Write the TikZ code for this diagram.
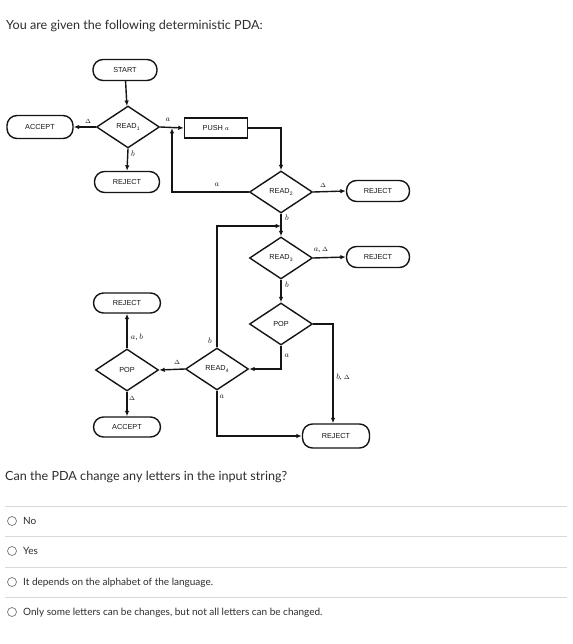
\documentclass[tikz,border=0pt]{standalone}
\usepackage{fontspec}
\setmainfont{Lato}
\newfontfamily\dg{Liberation Sans}
\usetikzlibrary{shapes.geometric,arrows.meta}
\definecolor{txt}{HTML}{2D2D2D}
\definecolor{sep}{HTML}{D9D9D9}
\definecolor{rad}{HTML}{777777}
\definecolor{ink}{HTML}{151515}
\newcommand{\sub}[1]{\raisebox{-1.8pt}{\fontsize{5}{5}\selectfont #1}}
\newcommand{\blank}{$\scriptstyle\Delta$}
\begin{document}
\begin{tikzpicture}[x=1pt,y=-1pt,
  term/.style={draw=ink, line width=1.4pt, rounded corners=10pt, minimum width=65pt, minimum height=21pt, inner sep=0pt, font=\dg\fontsize{7.3}{8}\selectfont, text=ink},
  dec/.style={draw=ink, diamond, line width=1.4pt, minimum width=63pt, minimum height=42pt, inner sep=0pt, font=\dg\fontsize{7.3}{8}\selectfont, text=ink},
  proc/.style={draw=ink, rectangle, line width=1.4pt, minimum width=63pt, minimum height=20pt, inner sep=0pt, font=\dg\fontsize{7.3}{8}\selectfont, text=ink},
  flow/.style={draw=ink, line width=1.4pt, -{Latex[length=5.5pt,width=4.5pt]}},
  lbl/.style={font=\fontsize{8}{9}\selectfont, text=ink, inner sep=0pt},
  txtn/.style={anchor=base west, text=txt, inner sep=0pt},
  opt/.style={txtn, font=\fontsize{10}{12}\selectfont},
  radio/.style={draw=rad, line width=0.7pt, circle, minimum size=9pt, inner sep=0pt},
  sepl/.style={draw=sep, line width=0.8pt}]
\useasboundingbox[fill=white] (0,0) rectangle (572,644);

\node[txtn, font=\fontsize{12.6}{14}\selectfont] (title) at (6,30) {You are given the following deterministic PDA:};

% flowchart nodes
\node[term, minimum width=64pt] (start) at (125,70) {START};
\node[dec] (read1) at (128,127) {READ\sub{1}};
\node[term, minimum width=66pt, minimum height=23pt] (acc1) at (40,127) {ACCEPT};
\node[proc] (push) at (216,128) {PUSH $a$};
\node[term] (rej1) at (127,182) {REJECT};
\node[dec] (read2) at (281,192) {READ\sub{2}};
\node[term, minimum width=63pt] (rej2) at (378,191) {REJECT};
\node[dec] (read3) at (281,258) {READ\sub{3}};
\node[term, minimum width=63pt] (rej3) at (378,257) {REJECT};
\node[dec] (pop1) at (281,324) {POP};
\node[dec] (read4) at (217,369) {READ\sub{4}};
\node[dec] (pop2) at (127,370) {POP};
\node[term, minimum width=67pt, minimum height=20pt] (rej4) at (127,303) {REJECT};
\node[term, minimum width=67pt, minimum height=20pt] (acc2) at (127,427) {ACCEPT};
\node[term, minimum width=67pt, minimum height=24pt] (rej5) at (336,436) {REJECT};
\coordinate (j1) at (172,128);
\coordinate (j2) at (281,226);

% connectors
\draw[flow] (start) -- (read1);
\draw[flow] (read1.west) -- (acc1.east);
\draw[flow] (read1.south) -- (rej1.north);
\draw[flow] (read1.east) -- (push.west);
\draw[flow] (push.east) -| (read2.north);
\draw[flow] (read2.west) -| (j1);
\draw[flow] (read2.east) -- (rej2.west);
\draw[flow] (read2.south) -- (read3.north);
\draw[flow] (read4.north) |- (j2);
\draw[flow] (read3.east) -- (rej3.west);
\draw[flow] (read3.south) -- (pop1.north);
\draw[flow] (pop1.east) -| ([xshift=-3pt]rej5.north);
\draw[flow] (pop1.south) |- (read4.east);
\draw[flow] (read4.west) -- (pop2.east);
\draw[flow] (pop2.north) -- (rej4.south);
\draw[flow] (pop2.south) -- (acc2.north);
\draw[flow] (read4.south) |- (rej5.west);

% labels
\node[lbl] (l1) at (88,121) {\blank};
\node[lbl] (l2) at (133,154) {$b$};
\node[lbl] (l3) at (168,120) {$a$};
\node[lbl] (l4) at (217,185) {$a$};
\node[lbl] (l5) at (323,185) {\blank};
\node[lbl] (l6) at (287,218) {$b$};
\node[lbl] (l7) at (321,250) {$a$, \blank};
\node[lbl] (l8) at (287,285) {$b$};
\node[lbl] (l9) at (343,377) {$b$, \blank};
\node[lbl] (l10) at (287,356) {$a$};
\node[lbl] (l11) at (210,341) {$b$};
\node[lbl] (l12) at (177,362) {\blank};
\node[lbl] (l13) at (137,337) {$a$, $b$};
\node[lbl] (l14) at (132,398) {\blank};
\node[lbl] (l15) at (222,397) {$a$};

% question
\node[txtn, font=\fontsize{12.6}{14}\selectfont] (q) at (5,480) {Can the PDA change any letters in the input string?};
\coordinate (s1a) at (5,506); \coordinate (s1b) at (567,506);
\coordinate (s2a) at (5,536); \coordinate (s2b) at (567,536);
\coordinate (s3a) at (5,567); \coordinate (s3b) at (567,567);
\coordinate (s4a) at (5,597); \coordinate (s4b) at (567,597);
\draw[sepl] (s1a) -- (s1b);
\draw[sepl] (s2a) -- (s2b);
\draw[sepl] (s3a) -- (s3b);
\draw[sepl] (s4a) -- (s4b);
\node[radio] (r1) at (12,521) {};
\node[radio] (r2) at (12,551) {};
\node[radio] (r3) at (12,582) {};
\node[radio] (r4) at (12,612) {};
\node[opt] (o1) at (23,524) {No};
\node[opt] (o2) at (23,554) {Yes};
\node[opt] (o3) at (23,585) {It depends on the alphabet of the language.};
\node[opt] (o4) at (23,615) {Only some letters can be changes, but not all letters can be changed.};
\end{tikzpicture}
\end{document}
